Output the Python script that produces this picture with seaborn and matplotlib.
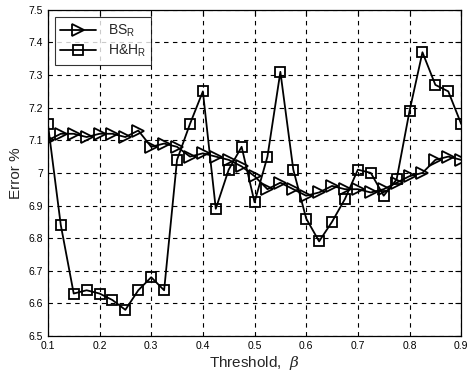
"""
Error % vs threshold beta for BS_R and H&H_R (MATLAB-style line plot).
"""
import matplotlib
matplotlib.use('Agg')
import numpy as np
import pandas as pd
import matplotlib.pyplot as plt
import seaborn as sns

# threshold values, step 0.025
beta = [0.1, 0.125, 0.15, 0.175, 0.2, 0.225, 0.25, 0.275, 0.3, 0.325, 0.35,
        0.375, 0.4, 0.425, 0.45, 0.475, 0.5, 0.525, 0.55, 0.575, 0.6, 0.625,
        0.65, 0.675, 0.7, 0.725, 0.75, 0.775, 0.8, 0.825, 0.85, 0.875, 0.9]

bs_r = [7.10, 7.12, 7.12, 7.11, 7.12, 7.12, 7.11, 7.13, 7.08, 7.09, 7.08,
        7.05, 7.06, 7.05, 7.04, 7.02, 6.99, 6.95, 6.97, 6.95, 6.93, 6.94,
        6.96, 6.95, 6.95, 6.94, 6.95, 6.97, 6.99, 7.00, 7.04, 7.05, 7.04]

hh_r = [7.15, 6.84, 6.63, 6.64, 6.63, 6.61, 6.58, 6.64, 6.68, 6.64, 7.04,
        7.15, 7.25, 6.89, 7.01, 7.08, 6.91, 7.05, 7.31, 7.01, 6.86, 6.79,
        6.85, 6.92, 7.01, 7.00, 6.93, 6.98, 7.19, 7.37, 7.27, 7.25, 7.15]

x_ticks = [0.1, 0.2, 0.3, 0.4, 0.5, 0.6, 0.7, 0.8, 0.9]
y_ticks = [6.5, 6.6, 6.7, 6.8, 6.9, 7.0, 7.1, 7.2, 7.3, 7.4, 7.5]
y_ticklabels = ['6.5', '6.6', '6.7', '6.8', '6.9', '7', '7.1', '7.2', '7.3', '7.4', '7.5']

sns.set_style('white')
plt.rcParams['font.family'] = ['Liberation Sans', 'DejaVu Sans']
plt.rcParams['mathtext.fontset'] = 'dejavuserif'

df = pd.DataFrame({'beta': beta, 'bs': bs_r, 'hh': hh_r})

fig = plt.figure(figsize=(4.74, 3.80), dpi=100)
ax = fig.add_axes([0.101, 0.116, 0.872, 0.858])

sns.lineplot(data=df, x='beta', y='bs', ax=ax, color='black', linewidth=1.3,
             marker='>', markersize=9, markerfacecolor='none',
             markeredgecolor='black', markeredgewidth=1.3,
             label=r'BS$_\mathregular{R}$')
sns.lineplot(data=df, x='beta', y='hh', ax=ax, color='black', linewidth=1.3,
             marker='s', markersize=7.5, markerfacecolor='none',
             markeredgecolor='black', markeredgewidth=1.3,
             label=r'H&H$_\mathregular{R}$')

ax.set_xlim(0.1, 0.9)
ax.set_ylim(6.5, 7.5)
ax.set_xticks(x_ticks)
ax.set_xticklabels([f'{t:g}' for t in x_ticks])
ax.set_yticks(y_ticks)
ax.set_yticklabels(y_ticklabels)
ax.tick_params(direction='in', length=4, width=0.8, labelsize=7.5,
               colors='black', top=True, right=True)
ax.grid(True, color='black', linestyle=(0, (4, 4)), linewidth=0.8)

for s in ax.spines.values():
    s.set_color('black')
    s.set_linewidth(0.9)

ax.set_xlabel(r'Threshold,  $\it{\beta}$', fontsize=11, labelpad=2)
ax.set_ylabel('Error %', fontsize=11, labelpad=4)

leg = ax.legend(loc='upper left', fontsize=10, frameon=True, fancybox=False,
                edgecolor='black', borderpad=0.4, handlelength=2.6,
                labelspacing=0.3, borderaxespad=0.5)
leg.get_frame().set_linewidth(0.8)

fig.savefig('out.png', dpi=100)
plt.close(fig)
